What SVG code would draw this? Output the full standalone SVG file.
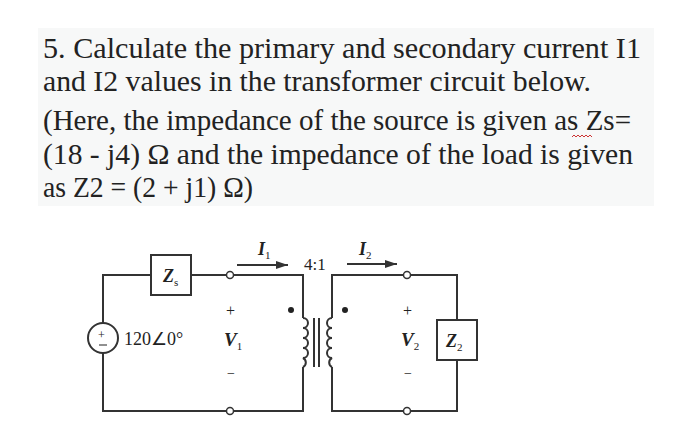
<svg xmlns="http://www.w3.org/2000/svg" width="700" height="444" viewBox="0 0 700 444">
<style>
.q{font-family:"Liberation Serif",serif;font-size:30px;fill:#222}
.w{fill:none;stroke:#333;stroke-width:2}
.b{fill:#fff;stroke:#333;stroke-width:2}
.l{font-family:"Liberation Serif",serif;fill:#222}
.t{fill:#fff;stroke:#333;stroke-width:1.5}
</style>
<defs><marker id="a" markerUnits="userSpaceOnUse" markerWidth="12" markerHeight="8" refX="12" refY="4" orient="auto"><path d="M0,0 L12,4 L0,8 Z" fill="#333"/></marker></defs>
<rect width="700" height="444" fill="#fff"/>
<g id="question">
<rect x="38" y="28" width="616" height="178" fill="#f7f8f8"/>
<text class="q" x="43" y="58" textLength="598" lengthAdjust="spacingAndGlyphs">5. Calculate the primary and secondary current I1</text>
<text class="q" x="43" y="91" textLength="548" lengthAdjust="spacingAndGlyphs">and I2 values in the transformer circuit below.</text>
<text class="q" x="43" y="130" textLength="588" lengthAdjust="spacingAndGlyphs">(Here, the impedance of the source is given as Zs=</text>
<text class="q" x="43" y="164" textLength="590" lengthAdjust="spacingAndGlyphs">(18 - j4) Ω and the impedance of the load is given</text>
<text class="q" x="43" y="197" textLength="210" lengthAdjust="spacingAndGlyphs">as Z2 = (2 + j1) Ω)</text>
<path d="M572,137 l2,-2 l2,2 l2,-2 l2,2 l2,-2 l2,2 l2,-2 l2,2 l2,-2 l2,2" fill="none" stroke="#c33" stroke-width="1"/>
</g>
<g id="connectors">
<path class="w" d="M103,323 V275 H151 M191,275 H227 M233,275 H303 V318 M303,367 V411 H233 M227,411 H103 V353"/>
<path class="w" d="M332,318 V275 H404 M410,275 H457 V320 M457,360 V411 H410 M404,411 H332 V367"/>
<path class="w" d="M303,318 a5,5 0 0 1 0,10 a5,5 0 0 1 0,10 a5,5 0 0 1 0,10 a5,5 0 0 1 0,10 a5,5 0 0 1 0,9"/>
<path class="w" d="M332,318 a5,5 0 0 0 0,10 a5,5 0 0 0 0,10 a5,5 0 0 0 0,10 a5,5 0 0 0 0,10 a5,5 0 0 0 0,9"/>
<path class="w" d="M314,318 V367 M319,318 V367" stroke-width="1.5"/>
<path class="w" d="M237,265 H288" marker-end="url(#a)" stroke-width="1.5"/>
<path class="w" d="M347,264 H397" marker-end="url(#a)" stroke-width="1.5"/>
</g>
<g id="terminals">
<circle class="t" cx="230" cy="275" r="3.5"/><circle class="t" cx="230" cy="411" r="3.5"/>
<circle class="t" cx="407" cy="275" r="3.5"/><circle class="t" cx="407" cy="411" r="3.5"/>
<circle cx="291" cy="310" r="3" fill="#222"/><circle cx="345" cy="310" r="3" fill="#222"/>
</g>
<g id="Zs"><rect class="b" x="151" y="255" width="40" height="40"/><text class="l" x="163" y="282" font-size="18" font-weight="bold" font-style="italic">Z<tspan font-size="11" font-weight="normal" font-style="normal" dy="4">s</tspan></text></g>
<g id="source"><circle class="b" cx="103" cy="338" r="15"/><text class="l" x="98" y="339" font-size="12">+</text><path d="M99,345 H107" stroke="#222" stroke-width="1"/>
<text class="l" x="124" y="345" font-size="18">120∠0°</text></g>
<g id="V1"><text class="l" x="226" y="316" font-size="16">+</text><text class="l" x="224" y="346" font-size="19" font-weight="bold" font-style="italic">V<tspan font-size="11" font-weight="normal" font-style="normal" dy="4">1</tspan></text><text class="l" x="227" y="378" font-size="14">−</text></g>
<g id="V2"><text class="l" x="403" y="316" font-size="16">+</text><text class="l" x="401" y="346" font-size="19" font-weight="bold" font-style="italic">V<tspan font-size="11" font-weight="normal" font-style="normal" dy="4">2</tspan></text><text class="l" x="404" y="378" font-size="14">−</text></g>
<g id="Z2"><rect class="b" x="437" y="320" width="40" height="40"/><text class="l" x="446" y="347" font-size="18" font-weight="bold" font-style="italic">Z<tspan font-size="11" font-weight="normal" font-style="normal" dy="4">2</tspan></text></g>
<g id="labels">
<text class="l" x="258" y="255" font-size="18" font-weight="bold" font-style="italic">I<tspan font-size="11" font-weight="normal" font-style="normal" dy="4">1</tspan></text>
<text class="l" x="359" y="255" font-size="18" font-weight="bold" font-style="italic">I<tspan font-size="11" font-weight="normal" font-style="normal" dy="4">2</tspan></text>
<text class="l" x="304" y="270" font-size="17">4:1</text>
</g>
</svg>
